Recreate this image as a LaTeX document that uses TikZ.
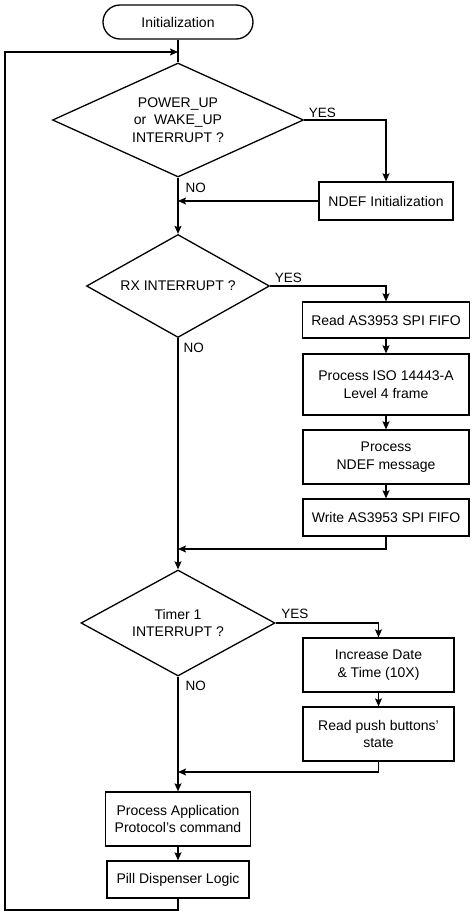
\documentclass[tikz,border=0pt]{standalone}
\usepackage{fontspec}
\setmainfont{Liberation Sans}
\usepackage{tikz}
\usetikzlibrary{shapes.geometric,arrows.meta}

\begin{document}
\begin{tikzpicture}[x=1pt,y=1pt,line width=1.3pt,
  every node/.style={font=\fontsize{14}{17.5}\selectfont,align=center,inner sep=0pt},
  stepbox/.style={draw,rectangle,minimum width=#1},
  decision/.style={draw,diamond,aspect=2.2},
  flow/.style={-{Stealth[length=8pt,width=7pt,inset=1.5pt]}},
  tag/.style={font=\fontsize{13.5}{15}\selectfont}]
\useasboundingbox (0,0) rectangle (474,-916);
% Drawing blocks
% Line 1: start
\node[draw,rounded corners=17pt,minimum width=150pt,minimum height=34pt] (init) at (178,-22) {Initialization};
% Line 2: first decision
\node[decision,minimum width=251pt,minimum height=114pt] (pwr) at (178,-120) {POWER\_UP\\or \ WAKE\_UP\\INTERRUPT ?};
\node[stepbox=134pt,minimum height=38pt] (ndef) at (386,-201) {NDEF Initialization};
% Line 3: RX decision
\node[decision,minimum width=183pt,minimum height=103pt] (rx) at (178,-286) {RX INTERRUPT ?};
\node[stepbox=167pt,minimum height=36pt] (rdfifo) at (386,-320) {Read AS3953 SPI FIFO};
\node[stepbox=166pt,minimum height=61pt] (iso) at (386,-384.5) {Process ISO 14443-A\\Level 4 frame};
\node[stepbox=166pt,minimum height=54pt] (ndefmsg) at (386,-457) {Process\\NDEF message};
\node[stepbox=166pt,minimum height=37pt] (wrfifo) at (386,-517.5) {Write AS3953 SPI FIFO};
% Line 4: timer decision
\node[decision,minimum width=194pt,minimum height=106pt] (tmr) at (178,-623) {Timer 1\\INTERRUPT ?};
\node[stepbox=151pt,minimum height=54pt] (date) at (378.5,-665) {Increase Date\\\& Time (10X)};
\node[stepbox=151pt,minimum height=54pt] (btn) at (378.5,-734) {Read push buttons'\\state};
% Line 5: tail
\node[stepbox=145pt,minimum height=54pt] (app) at (178,-819) {Process Application\\Protocol's command};
\node[stepbox=142pt,minimum height=37pt] (pill) at (178,-879.5) {Pill Dispenser Logic};
% Done with blocks; drawing join points
\coordinate (loop) at (178,-52);
\coordinate (jndef) at (178,-201);
\coordinate (jrx) at (178,-549);
\coordinate (jtmr) at (178,-772);
\coordinate (back) at (5,-910);
% Drawing connectors
\draw (init.south) -- (pwr.north);
\draw[flow] (pwr.east) -| (ndef.north);
\draw[flow] (pwr.south) -- (rx.north);
\draw[flow] (ndef.west) -- (jndef);
\draw[flow] (rx.east) -| (rdfifo.north);
\draw[flow] (rdfifo) -- (iso);
\draw[flow] (iso) -- (ndefmsg);
\draw[flow] (ndefmsg) -- (wrfifo);
\draw[flow] (wrfifo.south) |- (jrx);
\draw[flow] (rx.south) -- (tmr.north);
\draw[flow] (tmr.east) -| (date.north);
\draw[flow] (date) -- (btn);
\draw[flow] (btn.south) |- (jtmr);
\draw[flow] (tmr.south) -- (app.north);
\draw[flow] (app) -- (pill);
\draw[flow] (pill.south) |- (back) |- (loop);
% Drawing branch labels
\node[tag,anchor=south west] (y1) at ([xshift=4pt,yshift=2pt]pwr.east) {YES};
\node[tag,anchor=north west] (n1) at ([xshift=7pt,yshift=-5pt]pwr.south) {NO};
\node[tag,anchor=south west] (y2) at ([xshift=4pt,yshift=3pt]rx.east) {YES};
\node[tag,anchor=north west] (n2) at ([xshift=5pt,yshift=-4pt]rx.south) {NO};
\node[tag,anchor=south west] (y3) at ([xshift=5pt,yshift=4pt]tmr.east) {YES};
\node[tag,anchor=north west] (n3) at ([xshift=7pt,yshift=-4pt]tmr.south) {NO};
\end{tikzpicture}
\end{document}
